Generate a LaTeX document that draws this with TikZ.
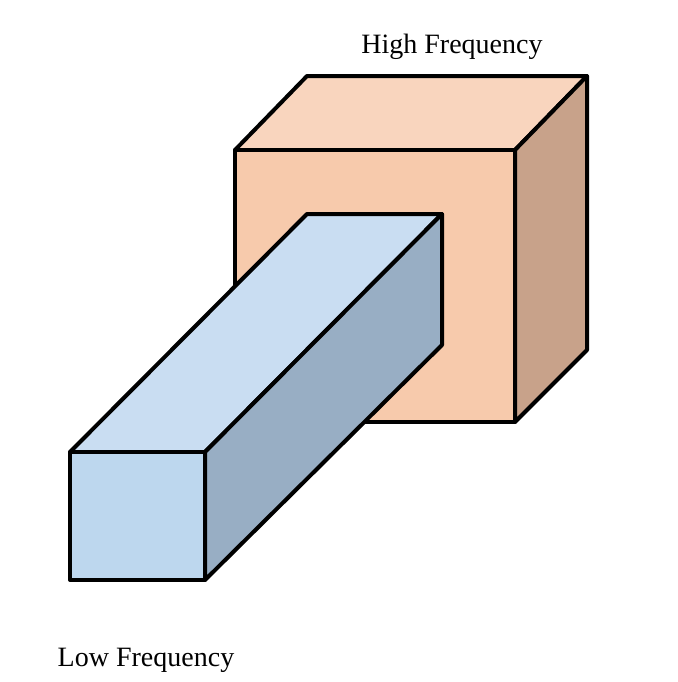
\documentclass[tikz,border=0pt]{standalone}
\usepackage{fontspec}
\setmainfont{Liberation Serif}
\tikzset{
every picture/.style={
line width=3pt
},
face/.style={draw=black, line join=round}
}
\definecolor{hifront}{HTML}{F7CAAC}
\definecolor{hitop}{HTML}{F9D5BE}
\definecolor{hiside}{HTML}{C8A28A}
\definecolor{lofront}{HTML}{BDD7EE}
\definecolor{lotop}{HTML}{C9DDF2}
\definecolor{loside}{HTML}{98AEC4}
\begin{document}
\begin{tikzpicture}[x=0.75pt, y=-0.75pt]
\useasboundingbox (0,0) rectangle (678,682);
% high frequency cube
\draw[face, fill=hitop] (235,150) -- (307,76) -- (587,76) -- (515,150) -- cycle;
\draw[face, fill=hiside] (515,150) -- (587,76) -- (587,350) -- (515,422) -- cycle;
\draw[face, fill=hifront] (235,150) rectangle (515,422);
% low frequency bar
\draw[face, fill=lotop] (70,452) -- (307,214) -- (442,214) -- (205,452) -- cycle;
\draw[face, fill=loside] (205,452) -- (442,214) -- (442,345) -- (205,580) -- cycle;
\draw[face, fill=lofront] (70,452) rectangle (205,580);
% labels
\node[font=\fontsize{21}{24}\selectfont] (hi) at (452,47) {High Frequency};
\node[font=\fontsize{21}{24}\selectfont] (lo) at (146,660) {Low Frequency};
\end{tikzpicture}
\end{document}
